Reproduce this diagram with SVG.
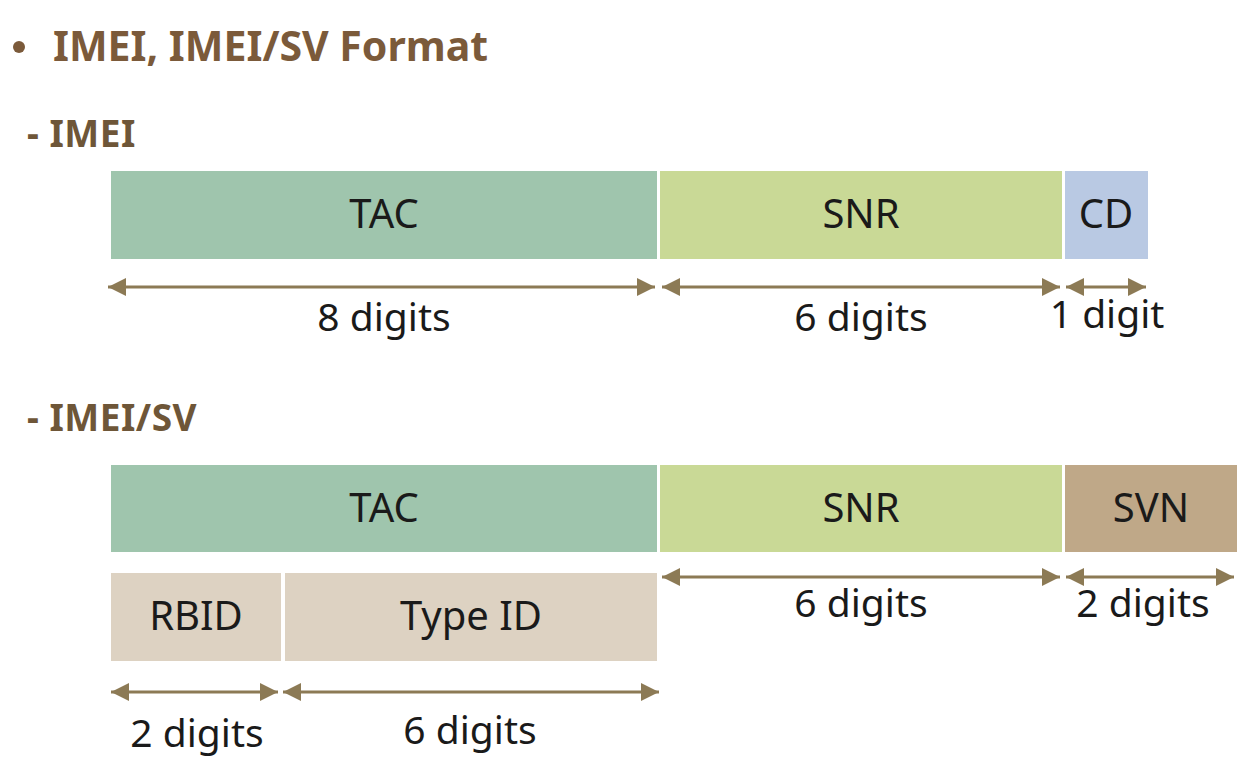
<svg xmlns="http://www.w3.org/2000/svg" width="1248" height="762" viewBox="0 0 1248 762">
<defs>
<style>
.h{font-family:"Noto Sans","Open Sans",sans-serif;font-weight:bold;fill:#7B5A3A}
.s{font-family:"Noto Sans","Open Sans",sans-serif;font-weight:bold;fill:#6E5638;font-size:37px;letter-spacing:0.5px}
.t{font-family:"Noto Sans","Open Sans",sans-serif;font-size:40px;fill:#1a1a1a;text-anchor:middle}
.d{font-family:"Noto Sans","Open Sans",sans-serif;font-size:39px;fill:#1a1a1a;text-anchor:middle}
.a{stroke:#8C7A55;stroke-width:3;fill:none;marker-start:url(#ms);marker-end:url(#me)}
</style>
<marker id="me" viewBox="0 0 10 10" refX="10" refY="5" markerWidth="6" markerHeight="6" orient="auto" markerUnits="strokeWidth"><path d="M0,0L10,5L0,10z" fill="#8C7A55"/></marker>
<marker id="ms" viewBox="0 0 10 10" refX="0" refY="5" markerWidth="6" markerHeight="6" orient="auto" markerUnits="strokeWidth"><path d="M10,0L0,5L10,10z" fill="#8C7A55"/></marker>
</defs>
<rect width="1248" height="762" fill="#fff"/>
<g id="title">
<circle cx="19" cy="47" r="6" fill="#7B5A3A"/>
<text class="h" x="53" y="61" font-size="41">IMEI, IMEI/SV Format</text>
<text class="s" x="27" y="147">- IMEI</text>
<text class="s" x="27" y="431">- IMEI/SV</text>
</g>
<g id="imei-tac"><rect x="111" y="171" width="546" height="88" fill="#9FC5AD"/><text class="t" x="384" y="228">TAC</text></g>
<g id="imei-snr"><rect x="660" y="171" width="402" height="88" fill="#C9D996"/><text class="t" x="861" y="228">SNR</text></g>
<g id="imei-cd"><rect x="1065" y="171" width="83" height="88" fill="#B9C9E3"/><text class="t" x="1106" y="228">CD</text></g>
<g id="sv-tac"><rect x="111" y="465" width="546" height="87" fill="#9FC5AD"/><text class="t" x="384" y="522">TAC</text></g>
<g id="sv-snr"><rect x="660" y="465" width="402" height="87" fill="#C9D996"/><text class="t" x="861" y="522">SNR</text></g>
<g id="sv-svn"><rect x="1065" y="465" width="172" height="87" fill="#BFA888"/><text class="t" x="1151" y="522">SVN</text></g>
<g id="sv-rbid"><rect x="111" y="573" width="170" height="88" fill="#DDD2C2"/><text class="t" x="196" y="630">RBID</text></g>
<g id="sv-typeid"><rect x="285" y="573" width="372" height="88" fill="#DDD2C2"/><text class="t" x="471" y="630">Type ID</text></g>
<g id="connectors">
<line class="a" x1="108" y1="287" x2="655" y2="287"/>
<line class="a" x1="662" y1="287" x2="1060" y2="287"/>
<line class="a" x1="1066" y1="287" x2="1146" y2="287"/>
<line class="a" x1="662" y1="577" x2="1060" y2="577"/>
<line class="a" x1="1066" y1="577" x2="1234" y2="577"/>
<line class="a" x1="111" y1="692" x2="278" y2="692"/>
<line class="a" x1="283" y1="692" x2="659" y2="692"/>
</g>
<g id="labels">
<text class="d" x="384" y="331">8 digits</text>
<text class="d" x="861" y="331">6 digits</text>
<text class="d" x="1107" y="328">1 digit</text>
<text class="d" x="861" y="617">6 digits</text>
<text class="d" x="1143" y="617">2 digits</text>
<text class="d" x="197" y="747">2 digits</text>
<text class="d" x="470" y="744">6 digits</text>
</g>
</svg>
